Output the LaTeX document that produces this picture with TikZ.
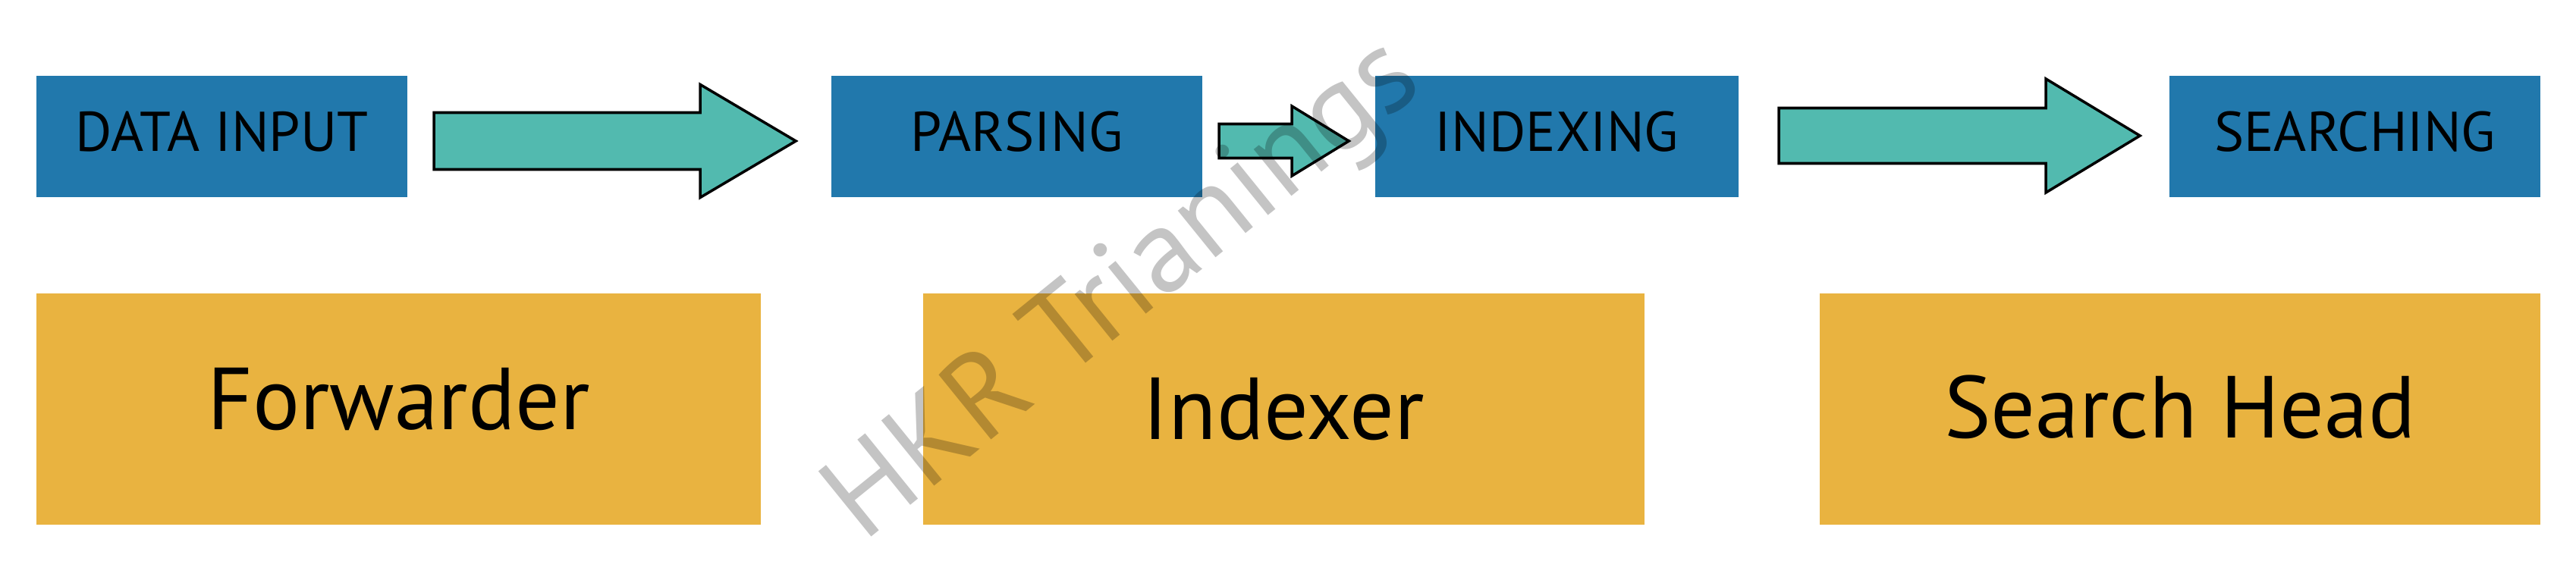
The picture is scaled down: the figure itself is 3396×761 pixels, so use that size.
\documentclass[tikz,border=0pt]{standalone}
\usepackage{fontspec}
\setmainfont{PT Sans}
\usetikzlibrary{calc}
\definecolor{stageblue}{RGB}{33,120,172}
\definecolor{arrowteal}{RGB}{82,186,175}
\definecolor{roleorange}{RGB}{233,179,64}
\tikzset{
  stagebox/.style={fill=stageblue,inner sep=0,outer sep=0,minimum width=4.89cm,minimum height=1.6cm,
    font=\fontsize{21}{21}\selectfont,text height=0.38cm,text depth=0pt},
  rolebox/.style={fill=roleorange,inner sep=0,outer sep=0,minimum width=9.52cm,minimum height=3.05cm,
    font=\fontsize{33}{33}\selectfont,text depth=0pt},
  arrowbox/.style={draw=black,fill=arrowteal,line width=1pt,line join=miter}
}
% block arrow: start, shaft length, shaft half width, head half width, head length
\newcommand{\flowarrow}[5]{%
  \draw[arrowbox]#1++(0,-#3)--++(#2,0)--++(0,#3-#4)--++(#5,#4)--++(-#5,#4)--++(0,#3-#4)--++(-#2,0)--cycle;}
\begin{document}
\begin{tikzpicture}[x=0.01cm,y=-0.01cm]
\useasboundingbox(0,0)rectangle(3396,761);
% pipeline stages
\node[stagebox](din)at(292.5,180){DATA INPUT};
\node[stagebox](pars)at(1340.5,180){PARSING};
\node[stagebox,minimum width=4.79cm](idx)at(2052.5,180){INDEXING};
\node[stagebox](srch)at(3104.5,180){SEARCHING};
\flowarrow{($(din.east)+(35,6)$)}{351}{37.5}{74.5}{126}
\flowarrow{($(pars.east)+(22,6)$)}{96}{22.5}{46}{75}
\flowarrow{($(idx.east)+(53,-1)$)}{352}{36.5}{75}{124}
% components
\node[rolebox,minimum width=9.55cm,text height=0.53cm](fwd)at(525.5,539.5){Forwarder};
\node[rolebox,minimum width=9.51cm,text height=0.79cm](ixr)at(1692.5,539.5){Indexer};
\node[rolebox,minimum width=9.5cm,text height=0.75cm](shd)at(2874,539.5){Search Head};
% watermark
\node[rotate=39,text=black,text opacity=0.23,font=\fontsize{45}{45}\selectfont](mark)at(1484,386){HKR Trianings};
\end{tikzpicture}
\end{document}
